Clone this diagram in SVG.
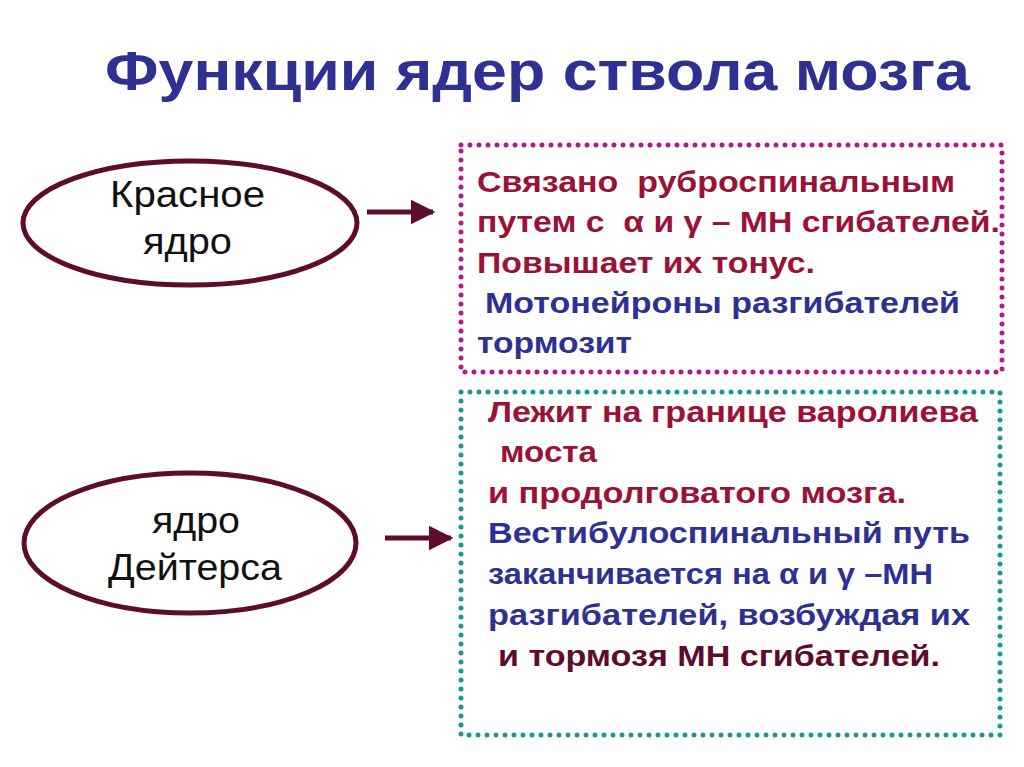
<svg xmlns="http://www.w3.org/2000/svg" width="1024" height="767" viewBox="0 0 1024 767">
<style>
text{font-family:"Liberation Sans",Arial,sans-serif}
.t{font-size:30px;font-weight:bold}
.r{fill:#9b1238}.b{fill:#2e3192}.m{fill:#5e0c2e}
.e{fill:#fff;stroke:#5e0c2e;stroke-width:5}
.n{font-size:36px;fill:#111}
</style>
<defs><marker id="a" viewBox="0 0 10 10" refX="9" refY="5" markerWidth="5" markerHeight="5" orient="auto"><path d="M0,0L10,5L0,10z" fill="#5e0c2e"/></marker></defs>
<rect width="1024" height="767" fill="#fff"/>
<text x="105" y="90" font-size="56" font-weight="bold" fill="#2e3192" textLength="865" lengthAdjust="spacingAndGlyphs">Функции ядер ствола мозга</text>
<g id="n1"><ellipse class="e" cx="190" cy="223" rx="167" ry="62"/><text class="n" x="110" y="207" textLength="155" lengthAdjust="spacingAndGlyphs">Красное</text><text class="n" x="143" y="254" textLength="89" lengthAdjust="spacingAndGlyphs">ядро</text></g>
<g id="n2"><ellipse class="e" cx="190" cy="543" rx="166" ry="70"/><text class="n" x="152" y="533" textLength="88" lengthAdjust="spacingAndGlyphs">ядро</text><text class="n" x="108" y="580" textLength="174" lengthAdjust="spacingAndGlyphs">Дейтерса</text></g>
<g id="b1"><rect x="461" y="145" width="541" height="227" fill="none" stroke="#b0198f" stroke-width="5" stroke-dasharray="0 9" stroke-linecap="round"/>
<text class="t r" x="477" y="192" textLength="478" lengthAdjust="spacingAndGlyphs" xml:space="preserve">Связано  руброспинальным</text>
<text class="t r" x="477" y="232" textLength="523" lengthAdjust="spacingAndGlyphs" xml:space="preserve">путем с  α и γ – МН сгибателей.</text>
<text class="t r" x="477" y="273" textLength="338" lengthAdjust="spacingAndGlyphs">Повышает их тонус.</text>
<text class="t b" x="485" y="313" textLength="475" lengthAdjust="spacingAndGlyphs">Мотонейроны разгибателей</text>
<text class="t b" x="477" y="353" textLength="155" lengthAdjust="spacingAndGlyphs">тормозит</text></g>
<g id="b2"><rect x="461" y="392" width="539" height="343" fill="none" stroke="#1a9a8f" stroke-width="5" stroke-dasharray="0 9" stroke-linecap="round"/>
<text class="t r" x="488" y="422" textLength="490" lengthAdjust="spacingAndGlyphs">Лежит на границе варолиева</text>
<text class="t r" x="500" y="462" textLength="97" lengthAdjust="spacingAndGlyphs">моста</text>
<text class="t r" x="488" y="503" textLength="418" lengthAdjust="spacingAndGlyphs">и продолговатого мозга.</text>
<text class="t b" x="488" y="543" textLength="482" lengthAdjust="spacingAndGlyphs">Вестибулоспинальный путь</text>
<text class="t b" x="488" y="584" textLength="445" lengthAdjust="spacingAndGlyphs">заканчивается на α и γ –МН</text>
<text class="t b" x="488" y="625" textLength="482" lengthAdjust="spacingAndGlyphs">разгибателей, возбуждая их</text>
<text class="t m" x="498" y="666" textLength="442" lengthAdjust="spacingAndGlyphs">и тормозя МН сгибателей.</text></g>
<g id="connectors" stroke="#5e0c2e" stroke-width="5" marker-end="url(#a)"><line x1="367" y1="212" x2="433" y2="212"/><line x1="385" y1="538" x2="451" y2="538"/></g>
</svg>
